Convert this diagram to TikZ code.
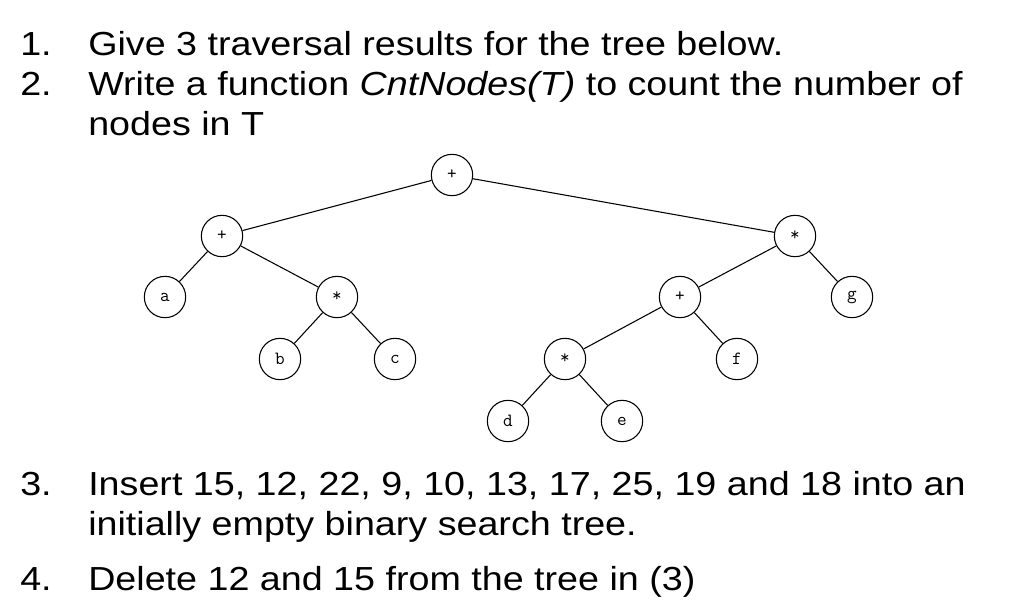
\documentclass[tikz,border=0pt]{standalone}
\usepackage{fontspec}
\setmainfont{Liberation Sans}[FakeStretch=1.13]
\begin{document}
\begin{tikzpicture}[x=0.75pt,y=-0.75pt,
  tn/.style={circle,draw,thick,minimum size=31pt,inner sep=0pt,font=\ttfamily\fontsize{14}{14}\selectfont},
  tx/.style={anchor=base west,inner sep=0pt,font=\fontsize{25}{28}\selectfont}]
\useasboundingbox (0,0) rectangle (1024,611);
\node[tx] (n1) at (20,55) {1.};
\node[tx] (t1) at (88,55) {Give 3 traversal results for the tree below.};
\node[tx] (n2) at (20,95) {2.};
\node[tx] (t2) at (88,95) {Write a function \textit{CntNodes(T)} to count the number of};
\node[tx] (t2b) at (88,135) {nodes in T};
\node[tx] (n3) at (20,495) {3.};
\node[tx] (t3) at (88,495) {Insert 15, 12, 22, 9, 10, 13, 17, 25, 19 and 18 into an};
\node[tx] (t3b) at (88,535) {initially empty binary search tree.};
\node[tx] (n4) at (20,590) {4.};
\node[tx] (t4) at (88,590) {Delete 12 and 15 from the tree in (3)};
\node[tn] (r) at (452,175) {+};
\node[tn] (l) at (222,236) {+};
\node[tn] (rr) at (795,236) {*};
\node[tn] (a) at (165,297) {a};
\node[tn] (lm) at (337,297) {*};
\node[tn] (rp) at (680,297) {+};
\node[tn] (g) at (852,297) {g};
\node[tn] (b) at (280,359) {b};
\node[tn] (c) at (395,359) {c};
\node[tn] (rm) at (565,359) {*};
\node[tn] (f) at (737,359) {f};
\node[tn] (d) at (508,421) {d};
\node[tn] (e) at (622,421) {e};
\draw[thick] (r)--(l) (r)--(rr) (l)--(a) (l)--(lm) (lm)--(b) (lm)--(c)
 (rr)--(rp) (rr)--(g) (rp)--(rm) (rp)--(f) (rm)--(d) (rm)--(e);
\end{tikzpicture}
\end{document}
